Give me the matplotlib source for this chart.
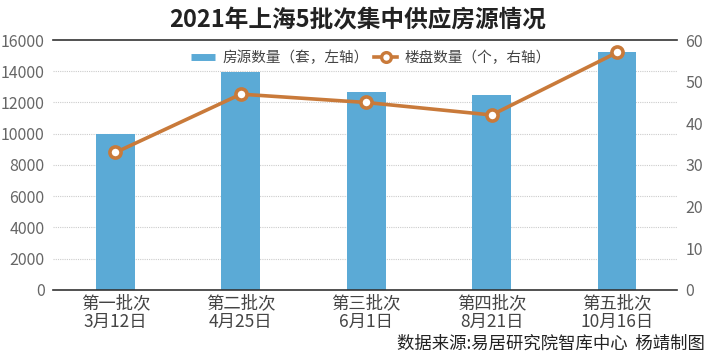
import matplotlib
matplotlib.use("Agg")
import matplotlib.pyplot as plt
from matplotlib.lines import Line2D

plt.rcParams['font.family'] = ['Noto Sans CJK SC', 'DejaVu Sans']

categories = ["第一批次\n3月12日", "第二批次\n4月25日", "第三批次\n6月1日", "第四批次\n8月21日", "第五批次\n10月16日"]
units = [10000, 13960, 12700, 12450, 15200]
projects = [33, 47, 45, 42, 57]
left_ticks = [0, 2000, 4000, 6000, 8000, 10000, 12000, 14000, 16000]
right_ticks = [0, 10, 20, 30, 40, 50, 60]

bar_color = "#5BAAD6"
line_color = "#C97A3A"
tick_color = "#666666"

fig = plt.figure(figsize=(7.16, 3.62), dpi=100)
ax = fig.add_axes([53 / 716, 0.199, 624 / 716, 0.6905])
x = list(range(len(categories)))
ax.bar(x, units, width=0.31, color=bar_color, zorder=2)
ax.set_ylim(0, 16000)
ax.set_xlim(-0.498, 4.478)
ax.set_yticks(left_ticks)
ax.set_xticks(x)
ax.set_xticklabels(categories, fontsize=12.5, color="#444444", linespacing=1.05)
for s in ["left", "right", "top", "bottom"]:
    ax.spines[s].set_visible(False)
ax.tick_params(axis='y', length=0, labelsize=11.5, labelcolor=tick_color, pad=6)
ax.tick_params(axis='x', length=0, pad=3)
for t in left_ticks[1:-1]:
    ax.axhline(t, color="#cccccc", linestyle=(0, (1, 1)), linewidth=0.8, zorder=1)
ax.axhline(16000, color="#333333", linewidth=1.2, zorder=3, clip_on=False)
ax.axhline(0, color="#333333", linewidth=1.2, zorder=3, clip_on=False)

ax2 = ax.twinx()
ax2.plot(x, projects, color=line_color, linewidth=2.6, marker='o', markersize=8,
         markerfacecolor='white', markeredgecolor=line_color, markeredgewidth=2.6,
         zorder=4)
ax2.set_ylim(0, 60)
ax2.set_yticks(right_ticks)
for s in ["left", "right", "top", "bottom"]:
    ax2.spines[s].set_visible(False)
ax2.tick_params(axis='y', length=0, labelsize=11.5, labelcolor=tick_color, pad=6)

h_bar = Line2D([], [], color=bar_color, linewidth=5, solid_capstyle='butt')
h_line = Line2D([], [], color=line_color, linewidth=2.6, marker='o', markersize=7,
                markerfacecolor='white', markeredgecolor=line_color, markeredgewidth=2.4)
leg = ax2.legend([h_bar, h_line], ["房源数量（套，左轴）", "楼盘数量（个，右轴）"],
                 loc='upper center', bbox_to_anchor=(0.51, 1.0),
                 ncol=2, frameon=False, fontsize=10.5, handlelength=1.6,
                 columnspacing=0.4, handletextpad=0.5, borderaxespad=0.3)
for t in leg.get_texts():
    t.set_color("#444444")

fig.text(0.5, 0.945, "2021年上海5批次集中供应房源情况", ha='center', va='center',
         fontsize=17, fontweight='bold', color="#222222")
fig.text(0.985, 0.05, "数据来源:易居研究院智库中心  杨靖制图", ha='right', va='center',
         fontsize=12.5, color="#222222")

fig.savefig("out.png", dpi=100)
